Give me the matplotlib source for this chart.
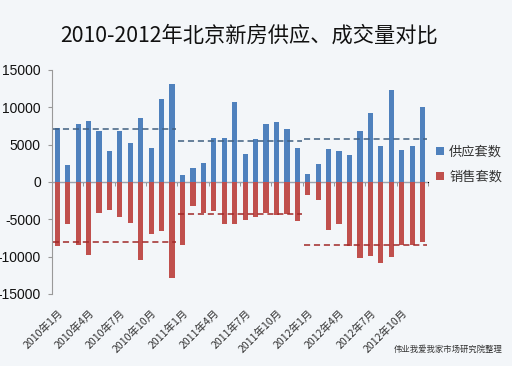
import numpy as np
import matplotlib
matplotlib.use("Agg")
import matplotlib.pyplot as plt

# ---- data ----
months = [f"{y}年{m}月" for y in (2010, 2011, 2012) for m in range(1, 13)]

supply = [7200, 2200, 7700, 8100, 6800, 4150, 6800, 5200, 8500, 4500, 11100, 13100,
          900, 1800, 2500, 5900, 5900, 10700, 3750, 5800, 7700, 8000, 7100, 4500,
          1000, 2400, 4400, 4200, 3600, 6800, 9200, 4800, 12300, 4300, 4800, 10000]

sales = [-8600, -5600, -8400, -9800, -4100, -3700, -4700, -5500, -10400, -7000, -6600, -12900,
         -8400, -3200, -4200, -3900, -5600, -5700, -5100, -4700, -4200, -4400, -4300, -5200,
         -1700, -2400, -6400, -5700, -8600, -10200, -9900, -10800, -10000, -8400, -8500, -8000]

years = [2010, 2011, 2012]
supply_avg = [7150, 5450, 5750]
sales_avg = [-8100, -4300, -8500]

yticks = [15000, 10000, 5000, 0, -5000, -10000, -15000]

title = "2010-2012年北京新房供应、成交量对比"
source = "伟业我爱我家市场研究院整理"

# ---- style ----
plt.rcParams['axes.unicode_minus'] = False
BG = '#f3f6f9'
BLUE = '#4f81bd'
RED = '#c0504d'
CJK = ['Noto Sans CJK SC', 'DejaVu Sans']
LAT = ['Liberation Sans', 'Noto Sans CJK SC']

fig = plt.figure(figsize=(5.12, 3.66), dpi=100, facecolor=BG)
ax = fig.add_axes([0.1016, 0.197, 0.734, 0.612])
ax.set_facecolor(BG)

x = np.arange(len(months))
ax.bar(x, supply, width=0.5, color=BLUE, label='供应套数', zorder=2)
ax.bar(x, sales, width=0.5, color=RED, label='销售套数', zorder=2)

# yearly averages as dashed lines
for i, yr in enumerate(years):
    x0, x1 = 12 * i - 0.4, 12 * i + 11.4
    ax.hlines(supply_avg[i], x0, x1, colors='#3f5f80', linestyles=(0, (4, 2.5)),
              linewidth=1.1, zorder=3)
    ax.hlines(sales_avg[i], x0, x1, colors='#a02828', linestyles=(0, (4, 2.5)),
              linewidth=1.1, zorder=3)

ax.set_xlim(-0.5, len(months) - 0.5)
ax.set_ylim(-15000, 15000)

# y axis
ax.set_yticks(yticks)
ax.set_yticklabels([str(v) for v in yticks], fontfamily=LAT, fontsize=10, color='#111111')
ax.tick_params(axis='y', length=3, width=0.8, color='#999999', pad=5)
for s in ['top', 'right', 'bottom']:
    ax.spines[s].set_visible(False)
ax.spines['left'].set_color('#999999')
ax.spines['left'].set_linewidth(0.8)

# x labels every 3 months, at the bottom
ax.set_xticks(x[::3])
ax.set_xticklabels(months[::3], rotation=45, ha='right', rotation_mode='anchor',
                   fontfamily=CJK, fontsize=7.6, color='#333333')
ax.tick_params(axis='x', length=0, pad=10)

# category axis through zero
ax.axhline(0, color='#9aa4b0', linewidth=0.8, zorder=1)
zax = ax.secondary_xaxis(0.5)
zax.set_xticks(np.arange(2.5, len(months), 3))
zax.set_xticklabels([])
zax.tick_params(axis='x', direction='in', length=3, width=0.7, color='#999999')
zax.spines['bottom'].set_visible(False)

# legend
leg = ax.legend(loc='center left', bbox_to_anchor=(0.99, 0.578), frameon=False,
                handlelength=0.6, handleheight=0.6, handletextpad=0.4,
                labelspacing=0.9, prop={'family': CJK, 'size': 9.5})
for t in leg.get_texts():
    t.set_color('#333333')

fig.text(0.486, 0.904, title, ha='center', va='center', fontfamily=CJK,
         fontsize=15.3, color='#111111')
fig.text(0.982, 0.045, source, ha='right', va='center', fontfamily=CJK,
         fontsize=6, color='#333333')

fig.savefig('out.png', dpi=100, facecolor=BG)
